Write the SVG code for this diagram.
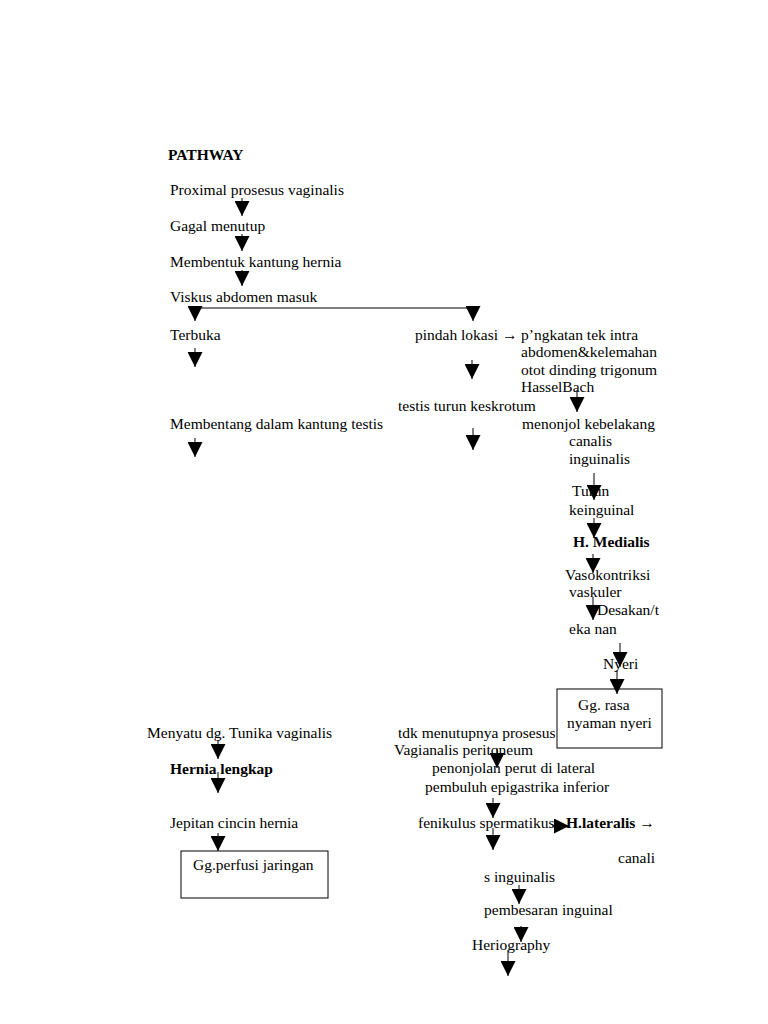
<svg xmlns="http://www.w3.org/2000/svg" width="768" height="1024" viewBox="0 0 768 1024">
<style>
text{font-family:"Liberation Serif",serif;font-size:15.5px;fill:#000}
.b{font-weight:bold}
.c line{stroke:#000;stroke-width:1}
.box{fill:none;stroke:#000;stroke-width:1}
</style>
<defs>
<marker id="a" markerUnits="userSpaceOnUse" markerWidth="15" markerHeight="15" refX="14" refY="7" orient="auto" viewBox="0 0 14 14">
<polygon points="0,0 14,7 0,14" fill="#000"/>
</marker>
</defs>
<rect width="768" height="1024" fill="#fff"/>
<g class="c" id="connectors">
<line x1="242" y1="198" x2="242" y2="216" marker-end="url(#a)"/>
<line x1="242" y1="234" x2="242" y2="251" marker-end="url(#a)"/>
<line x1="242" y1="270" x2="242" y2="286" marker-end="url(#a)"/>
<line x1="195" y1="308" x2="473" y2="308"/>
<line x1="195" y1="308" x2="195" y2="321" marker-end="url(#a)"/>
<line x1="473" y1="308" x2="473" y2="321" marker-end="url(#a)"/>
<line x1="195" y1="348" x2="195" y2="367" marker-end="url(#a)"/>
<line x1="472" y1="360" x2="472" y2="379" marker-end="url(#a)"/>
<line x1="473" y1="428" x2="473" y2="450" marker-end="url(#a)"/>
<line x1="195" y1="438" x2="195" y2="457" marker-end="url(#a)"/>
<line x1="577" y1="390" x2="577" y2="412" marker-end="url(#a)"/>
<line x1="594" y1="473" x2="594" y2="500" marker-end="url(#a)"/>
<line x1="594" y1="518" x2="594" y2="538" marker-end="url(#a)"/>
<line x1="593" y1="554" x2="593" y2="573" marker-end="url(#a)"/>
<line x1="593" y1="597" x2="593" y2="620" marker-end="url(#a)"/>
<line x1="620" y1="643" x2="620" y2="667" marker-end="url(#a)"/>
<line x1="617" y1="670" x2="617" y2="694" marker-end="url(#a)"/>
<line x1="218" y1="740" x2="218" y2="759" marker-end="url(#a)"/>
<line x1="218" y1="772" x2="218" y2="793" marker-end="url(#a)"/>
<line x1="218" y1="833" x2="218" y2="851" marker-end="url(#a)"/>
<line x1="497" y1="748" x2="497" y2="768" marker-end="url(#a)"/>
<line x1="493" y1="798" x2="493" y2="818" marker-end="url(#a)"/>
<line x1="493" y1="828" x2="493" y2="850" marker-end="url(#a)"/>
<line x1="552" y1="826" x2="569" y2="826" marker-end="url(#a)"/>
<line x1="519" y1="885" x2="519" y2="904" marker-end="url(#a)"/>
<line x1="521" y1="926" x2="521" y2="942" marker-end="url(#a)"/>
<line x1="508" y1="950" x2="508" y2="976" marker-end="url(#a)"/>
</g>
<g id="title"><text x="168" y="160" class="b">PATHWAY</text></g>
<g id="n1"><text x="170" y="195">Proximal prosesus vaginalis</text></g>
<g id="n2"><text x="170" y="231">Gagal menutup</text></g>
<g id="n3"><text x="170" y="267">Membentuk kantung hernia</text></g>
<g id="n4"><text x="170" y="302">Viskus abdomen masuk</text></g>
<g id="n5"><text x="170" y="340">Terbuka</text></g>
<g id="n6"><text x="415" y="340">pindah lokasi →</text></g>
<g id="n7"><text x="521" y="340">p’ngkatan tek intra</text><text x="521" y="357">abdomen&amp;kelemahan</text><text x="521" y="375">otot dinding trigonum</text><text x="521" y="392">HasselBach</text></g>
<g id="n8"><text x="398" y="411">testis turun keskrotum</text></g>
<g id="n9"><text x="170" y="429">Membentang dalam kantung testis</text></g>
<g id="n10"><text x="522" y="429">menonjol kebelakang</text><text x="569" y="446">canalis</text><text x="569" y="464">inguinalis</text></g>
<g id="n11"><text x="572" y="496">Turun</text><text x="569" y="515">keinguinal</text></g>
<g id="n12"><text x="573" y="547" class="b">H. Medialis</text></g>
<g id="n13"><text x="565" y="580">Vasokontriksi</text><text x="569" y="597">vaskuler</text></g>
<g id="n14"><text x="597" y="615">Desakan/t</text><text x="569" y="634">eka  nan</text></g>
<g id="n15"><text x="603" y="669">Nyeri</text></g>
<g id="n16"><rect class="box" x="557" y="689" width="105" height="59"/><text x="578" y="710">Gg. rasa</text><text x="567" y="728">nyaman nyeri</text></g>
<g id="n17"><text x="147" y="738">Menyatu dg. Tunika vaginalis</text></g>
<g id="n18"><text x="170" y="774" class="b">Hernia lengkap</text></g>
<g id="n19"><text x="170" y="828">Jepitan cincin hernia</text></g>
<g id="n20"><rect class="box" x="181" y="851" width="147" height="47"/><text x="193" y="870">Gg.perfusi jaringan</text></g>
<g id="n21"><text x="398" y="738">tdk menutupnya prosesus</text><text x="394" y="755">Vagianalis peritoneum</text></g>
<g id="n22"><text x="432" y="773">penonjolan perut di lateral</text><text x="425" y="792">pembuluh  epigastrika inferior</text></g>
<g id="n23"><text x="418" y="828">fenikulus spermatikus</text></g>
<g id="n24"><text x="566" y="828" class="b">H.lateralis →</text></g>
<g id="n25"><text x="618" y="863">canali</text><text x="484" y="882">s inguinalis</text></g>
<g id="n26"><text x="484" y="915">pembesaran inguinal</text></g>
<g id="n27"><text x="472" y="950">Heriography</text></g>
</svg>
